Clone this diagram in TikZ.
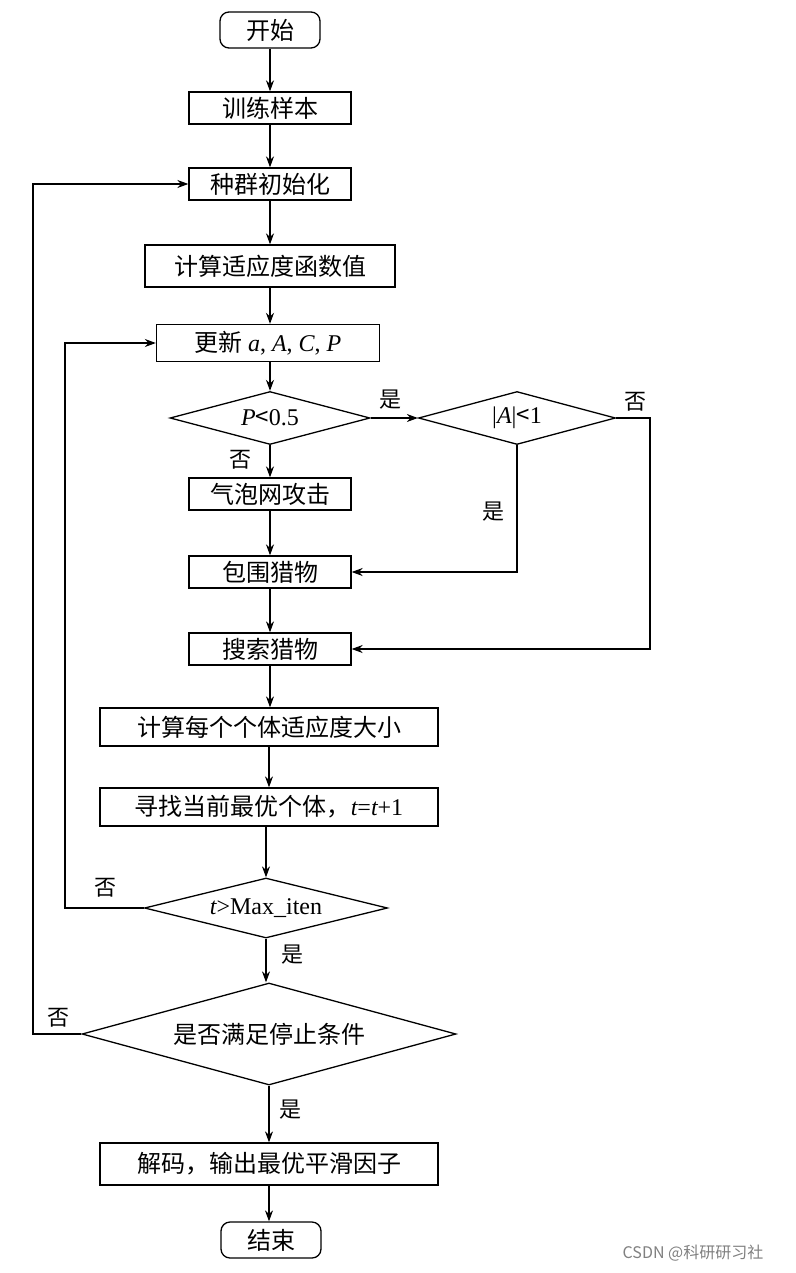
\documentclass[tikz,border=0pt]{standalone}
\usepackage{fontspec}
\setmainfont{Liberation Serif}
\newfontfamily\cjk{Noto Sans CJK SC}
\usetikzlibrary{shapes.geometric,arrows.meta}
\begin{document}
\begin{tikzpicture}[x=1pt,y=-1pt,
  every node/.style={font=\cjk\fontsize{24}{28}\selectfont},
  box/.style={draw,line width=1.3pt,inner sep=0pt},
  term/.style={box,rounded corners=9pt},
  dia/.style={draw,line width=1.3pt,diamond,aspect=3,inner sep=0pt},
  arr/.style={draw,line width=1.3pt,-{Stealth[length=11pt,width=8pt]}},
  lab/.style={font=\cjk\fontsize{22}{26}\selectfont}]
\useasboundingbox[fill=white] (0,0) rectangle (795,1273);
\node[term,minimum width=100,minimum height=36] (s) at (270,30) {开始};
\node[box,minimum width=162,minimum height=32] (b1) at (270,108) {训练样本};
\node[box,minimum width=162,minimum height=32] (b2) at (270,184) {种群初始化};
\node[box,minimum width=250,minimum height=42] (b3) at (270,266) {计算适应度函数值};
\node[box,minimum width=223,minimum height=37] (b4) at (268,343) {更新 {\rmfamily\itshape a}{\rmfamily, \itshape A}{\rmfamily, \itshape C}{\rmfamily, \itshape P}};
\node[dia,minimum width=200,minimum height=53] (d1) at (270,418) {{\rmfamily\itshape P}<{\rmfamily 0.5}};
\node[dia,minimum width=197,minimum height=53] (d2) at (517,418) {{\rmfamily|\itshape A\upshape|}<{\rmfamily 1}};
\node[box,minimum width=162,minimum height=32] (b5) at (270,494) {气泡网攻击};
\node[box,minimum width=162,minimum height=32] (b6) at (270,572) {包围猎物};
\node[box,minimum width=162,minimum height=32] (b7) at (270,649) {搜索猎物};
\node[box,minimum width=338,minimum height=38] (b8) at (269,727) {计算每个个体适应度大小};
\node[box,minimum width=338,minimum height=38] (b9) at (269,807) {寻找当前最优个体，{\rmfamily\itshape t\upshape=\itshape t\upshape+1}};
\node[dia,minimum width=243,minimum height=60] (d3) at (266,908) {{\rmfamily\itshape t\upshape>Max\_iten}};
\node[dia,minimum width=374,minimum height=102] (d4) at (269,1034) {是否满足停止条件};
\node[box,minimum width=338,minimum height=42] (b10) at (269,1164) {解码，输出最优平滑因子};
\node[term,minimum width=100,minimum height=36] (e) at (271,1240) {结束};
\draw[arr] (s) -- (b1);
\draw[arr] (b1) -- (b2);
\draw[arr] (b2) -- (b3);
\draw[arr] (b3) -- (b3|-b4.north);
\draw[arr] (d1|-b4.south) -- (d1);
\draw[arr] (d1) -- (b5);
\draw[arr] (b5) -- (b6);
\draw[arr] (b6) -- (b7);
\draw[arr] (b7) -- (b7|-b8.north);
\draw[arr] (b8) -- (b9);
\draw[arr] (d3|-b9.south) -- (d3);
\draw[arr] (d3) -- (d3|-d4.north);
\draw[arr] (d4) -- (b10);
\draw[arr] (b10) -- (b10|-e.north);
\draw[arr] (d1.east) -- (d2.west);
\draw[arr] (d2.south) |- (b6.east);
\draw[arr] (d2.east) -- (650,418) |- (b7.east);
\draw[arr] (d3.west) -- (65,908) |- (b4.west);
\draw[arr] (d4.west) -- (33,1034) |- (b2.west);
\node[lab] at (390,400) {是};
\node[lab] at (635,402) {否};
\node[lab] at (240,460) {否};
\node[lab] at (493,512) {是};
\node[lab] at (105,888) {否};
\node[lab] at (292,955) {是};
\node[lab] at (58,1018) {否};
\node[lab] at (290,1110) {是};
\node[font=\cjk\fontsize{16}{19}\selectfont,text=gray] at (693,1253) {CSDN @科研研习社};
\end{tikzpicture}
\end{document}
